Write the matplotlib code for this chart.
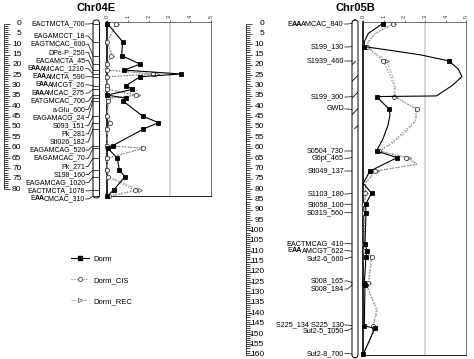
import numpy as np
import matplotlib
matplotlib.use("Agg")
import matplotlib.pyplot as plt
from matplotlib.patches import FancyBboxPatch, Rectangle
from matplotlib.lines import Line2D
from matplotlib.collections import LineCollection

plt.rcParams['font.family'] = ['Liberation Sans', 'DejaVu Sans']
plt.rcParams['hatch.linewidth'] = 0.6

# ---------------- data ----------------
chr4_markers = ["EACTMCTA_700", "EAGAMCCT_18", "EAGTMCAC_600", "DPe-P_250", "EACAMCTA_45",
                "EAAAMCAC_1210", "EAAAMCTA_590", "EAAAMCGT_26", "EAAAMCAC_275", "EATGMCAC_700",
                "a-Glu_600", "EAGAMACG_24", "S093_151", "Pk_281", "Stl026_182", "EAGAMCAG_520",
                "EAGAMCAC_70", "Pk_271", "S198_160", "EAGAMCAG_1020", "EACTMCTA_1078", "EAACMCAC_310"]
chr4_pos = [0.0, 8.8, 15.5, 19.6, 22.5, 24.4, 25.7, 30.0, 31.8, 34.6, 36.1,
            37.3, 44.7, 47.9, 51.0, 59.0, 60.3, 65.0, 70.8, 74.0, 80.5, 83.4]
chr4_dorm = [0.0, 0.74, 0.69, 1.58, 0.82, 3.55, 1.58, 0.90, 1.20, 0.0, 0.90,
             0.74, 1.70, 2.46, 1.74, 0.26, 0.02, 0.48, 0.58, 0.85, 0.30, 0.0]
chr4_cis = [0.42, 0.0, 0.20, 0.0, 0.0, 2.19, 0.0, 0.0, 0.0, 1.38, 0.05,
            0.05, 0.0, 0.13, 0.0, 0.0, 1.74, 0.0, 0.0, 0.05, 1.34, 0.10]
chr4_rec = [0.48, 0.0, 0.25, 0.0, 0.0, 2.38, 0.0, 0.0, 0.0, 1.50, 0.05,
            0.05, 0.0, 0.15, 0.0, 0.0, 1.74, 0.0, 0.0, 0.05, 1.58, 0.15]

chr5_markers = ["EAAAMCAC_840", "S199_130", "S1939_460", "S199_300", "GWD", "S0504_730",
                "G6pt_465", "Stl049_137", "S1103_180", "Stl058_100", "S0319_560",
                "EACTMCAG_410", "EAAAMCGT_622", "Sut2-6_660", "S008_165", "S008_184",
                "S225_134 S225_130", "Sut2-5_1050", "Sut2-8_700"]
chr5_pos = [0.0, 11.2, 18.1, 35.3, 41.5, 61.6, 64.8, 71.3, 82.0, 87.3, 91.4,
            106.5, 110.0, 112.7, 125.2, 126.3, 146.0, 147.3, 159.7]
chr5_dorm = [0.94, 0.05, 4.15, 0.64, 1.26, 0.64, 1.64, 0.32, 0.40, 0.11, 0.13,
             0.08, 0.19, 0.13, 0.05, 0.08, 0.05, 0.56, 0.0]
chr5_cis = [1.45, 0.16, 0.97, 1.50, 2.58, 0.76, 2.09, 0.56, 0.10, 0.05, 0.05,
            0.05, 0.10, 0.40, 0.24, 0.15, 0.48, 0.50, 0.0]
chr5_rec = [1.50, 0.16, 1.13, 1.55, 2.60, 0.80, 2.22, 0.64, 0.12, 0.05, 0.05,
            0.05, 0.10, 0.42, 0.26, 0.15, 0.50, 0.52, 0.0]
# interval-mapping profile points read between markers
chr5_dorm_prof_pos = [4.8, 8.8, 12.8, 15.2, 22.0, 25.7, 30.0, 35.0, 44.2, 49.0, 55.3, 77.2]
chr5_dorm_prof_val = [0.24, 0.05, 1.2, 2.8, 4.6, 4.78, 4.3, 3.54, 1.29, 1.2, 0.97, 0.0]
chr5_cis_prof_pos = [4.8, 8.8, 25.0, 30.5, 47.0, 52.0, 57.7, 68.0, 77.0, 138.4, 153.0]
chr5_cis_prof_val = [0.56, 0.24, 1.3, 1.5, 2.5, 2.0, 1.35, 2.58, 0.10, 0.64, 0.30]
chr5_rec_prof_pos = [4.8, 8.8, 25.0, 30.5, 47.0, 52.0, 57.7, 68.0, 77.0, 138.4, 153.0]
chr5_rec_prof_val = [0.60, 0.26, 1.4, 1.55, 2.55, 2.1, 1.45, 2.62, 0.12, 0.68, 0.32]

chr5_qtl_region = (18.0, 51.0)
lod_threshold = 3.0
lod_ticks = [0, 1, 2, 3, 4, 5]
series_names = ["Dorm", "Dorm_CIS", "Dorm_REC"]

# ---------------- layout ----------------
W, H = 474, 359
Y0, S = 23.5, 2.07          # pixel y of 0 cM, pixels per cM


def fy(cm):
    return 1 - (Y0 + S * cm) / H


def cm_of(px):
    return (px - Y0) / S


fig = plt.figure(figsize=(W / 100, H / 100), dpi=100)
renderer = fig.canvas.get_renderer()
axm = fig.add_axes([0, 0, 1, 1])
axm.set_xlim(0, W)          # x data units == pixels
axm.set_ylim((H - Y0) / S, -Y0 / S)
axm.axis('off')

STY = {
    "Dorm": dict(color='black', lw=0.8, ls='-', marker='s', ms=3.4, mfc='black', mec='black'),
    "Dorm_CIS": dict(color='#7a7a7a', lw=0.8, ls=':', marker='o', ms=3.0, mfc='white', mec='#444444', mew=0.6),
    "Dorm_REC": dict(color='#bdbdbd', lw=0.8, ls='--', marker='>', ms=3.0, mfc='white', mec='#666666', mew=0.6),
}


def merge(p, v, ep, ev):
    pts = sorted(list(zip(p, v)) + list(zip(ep, ev)), key=lambda t: t[0])
    return [a for a, b in pts], [b for a, b in pts]


def lod_axes(x0, x1, cm_top, cm_bot):
    ax = fig.add_axes([x0 / W, fy(cm_bot), (x1 - x0) / W, (cm_bot - cm_top) * S / H])
    ax.set_xlim(0, 5)
    ax.set_ylim(cm_bot, cm_top)
    ax.set_yticks([])
    ax.xaxis.tick_top()
    ax.set_xticks(lod_ticks)
    ax.set_xticklabels([str(t) for t in lod_ticks], rotation=90, fontsize=4)
    ax.tick_params(axis='x', length=1.5, width=0.5, pad=1, colors='#333333')
    for k, sp in ax.spines.items():
        sp.set_linewidth(0.6)
        sp.set_color('#555555')
    ax.spines['left'].set_linewidth(1.2)
    ax.spines['left'].set_color('black')
    ax.spines['bottom'].set_color('black')
    ax.axvline(lod_threshold, color='#cfcfcf', lw=1.2, zorder=0)
    ax.patch.set_alpha(0)
    return ax


def draw_series(ax, pos, vals, curve_pos, curve_vals, name, z):
    st = STY[name]
    ax.plot(curve_vals, curve_pos, color=st['color'], lw=st['lw'], ls=st['ls'], zorder=z, clip_on=False)
    ax.plot(vals, pos, ls='none', marker=st['marker'], ms=st['ms'], mfc=st['mfc'],
            mec=st['mec'], mew=st.get('mew', 0.6), zorder=z + 0.5, clip_on=False)


def marker_label(x, y, name, fs):
    """Right-aligned label; the 'AA' after the leading E is set in bold."""
    if name.startswith("EAA"):
        pieces = [(name[3:], 'normal'), ("AA", 'bold'), ("E", 'normal')]
    else:
        pieces = [(name, 'normal')]
    cx = x
    for txt, wt in pieces:
        t = axm.text(cx, y, txt, ha='right', va='center', fontsize=fs, fontweight=wt)
        cx -= t.get_window_extent(renderer).width - 0.8


def ruler(x, maxcm, xlab):
    segs = []
    for c in range(0, maxcm + 1):
        L = 6.0 if c % 5 == 0 else 3.5
        segs.append([(x, c), (x + L, c)])
    segs.append([(x, 0), (x, maxcm)])
    axm.add_collection(LineCollection(segs, colors='black', linewidths=0.5))
    for c in range(0, maxcm + 1, 5):
        axm.text(xlab, c, str(c), ha='right', va='center', fontsize=6)


def bar(x0, x1, c0, c1):
    p = FancyBboxPatch((x0, c0), x1 - x0, c1 - c0,
                       boxstyle="round,pad=0,rounding_size=3.2",
                       mutation_aspect=1 / S, fc='white', ec='black', lw=0.7, zorder=2)
    axm.add_patch(p)


# ---------------- Chr04E ----------------
ruler(4.5, 80, 21.5)
bar(93, 99.5, -1.7, 84.3)
lab4_px = [24] + [36 + 8.15 * i for i in range(21)]
for name, p, lp in zip(chr4_markers, chr4_pos, lab4_px):
    ly = cm_of(lp)
    axm.plot([85.8, 88.3, 93], [ly, ly, p], color='black', lw=0.5, zorder=3)
    axm.plot([93, 99.5], [p, p], color='black', lw=0.5, zorder=3)
    marker_label(85.2, ly, name, 5.0)

ax4 = lod_axes(107.3, 211.0, -0.9, 83.4)
draw_series(ax4, chr4_pos, chr4_rec, chr4_pos, chr4_rec, "Dorm_REC", 3)
draw_series(ax4, chr4_pos, chr4_cis, chr4_pos, chr4_cis, "Dorm_CIS", 4)
draw_series(ax4, chr4_pos, chr4_dorm, chr4_pos, chr4_dorm, "Dorm", 5)

# ---------------- Chr05B ----------------
ruler(246.5, 160, 264)
bar(352, 358, -1.7, 161.5)
axm.add_patch(Rectangle((352, chr5_qtl_region[0]), 6, chr5_qtl_region[1] - chr5_qtl_region[0],
                        fill=False, hatch='//', lw=0, ec='black', zorder=2.5))
lab5_px = [24, 47, 61, 97, 109, 151, 158.3, 171, 194, 204.3, 212.7,
           243.3, 250.7, 258.3, 281, 289, 325, 330.5, 353.3]
for name, p, lp in zip(chr5_markers, chr5_pos, lab5_px):
    ly = cm_of(lp)
    axm.plot([344.8, 347.5, 352], [ly, ly, p], color='black', lw=0.5, zorder=3)
    marker_label(344.0, ly, name, 5.2)

ax5 = lod_axes(363.3, 466.5, -0.9, 160.2)
rp, rv = merge(chr5_pos, chr5_rec, chr5_rec_prof_pos, chr5_rec_prof_val)
cp, cv = merge(chr5_pos, chr5_cis, chr5_cis_prof_pos, chr5_cis_prof_val)
dp, dv = merge(chr5_pos, chr5_dorm, chr5_dorm_prof_pos, chr5_dorm_prof_val)
draw_series(ax5, chr5_pos, chr5_rec, rp, rv, "Dorm_REC", 3)
draw_series(ax5, chr5_pos, chr5_cis, cp, cv, "Dorm_CIS", 4)
draw_series(ax5, chr5_pos, chr5_dorm, dp, dv, "Dorm", 5)

# ---------------- titles & legend ----------------
fig.text(96 / W, 1 - 8 / H, "Chr04E", ha='center', va='center', fontsize=8, fontweight='bold')
fig.text(355 / W, 1 - 8 / H, "Chr05B", ha='center', va='center', fontsize=8, fontweight='bold')

handles = [Line2D([], [], **STY[n]) for n in series_names]
fig.legend(handles, series_names, loc='upper left', bbox_to_anchor=(71 / W, 1 - 255.5 / H),
           frameon=False, borderpad=0, borderaxespad=0, handlelength=2.4,
           handletextpad=0.5, labelspacing=1.8, fontsize=5.5)

fig.savefig("out.png", dpi=100)
